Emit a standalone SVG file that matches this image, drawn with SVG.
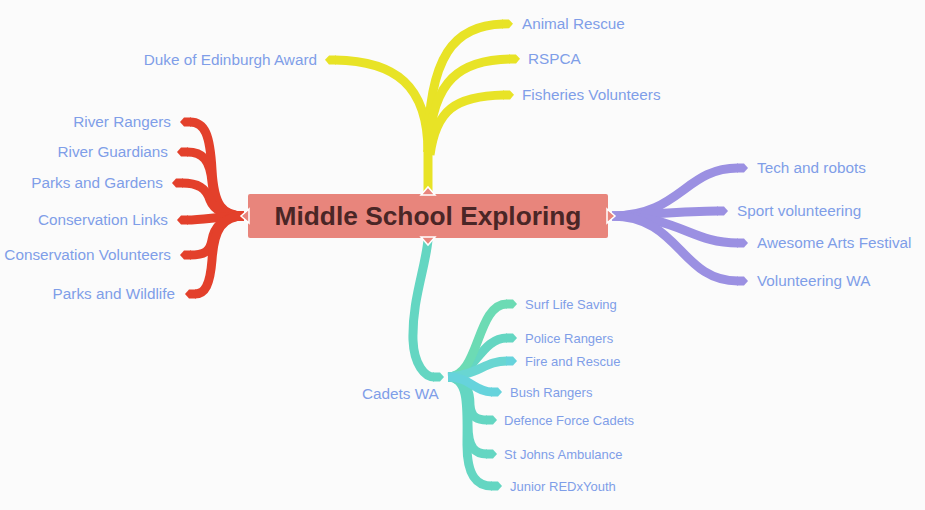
<svg xmlns="http://www.w3.org/2000/svg" width="925" height="510" viewBox="0 0 925 510">
<defs>
<style>
.lbl{font-family:"Liberation Sans",Arial,sans-serif;font-size:15.3px;fill:#7f9ee8}
.sm{font-size:13px}
.br{fill:none;stroke-linecap:butt}
.y{stroke:#e8e326;stroke-width:9}
.r{stroke:#e3402b;stroke-width:9}
.p{stroke:#9b90e2;stroke-width:9}
.t{stroke:#64d6c2;stroke-width:9}
.notch{fill:#e8857c;stroke:#ffffff;stroke-width:1.5}
</style>
<marker id="my" markerUnits="userSpaceOnUse" markerWidth="12" markerHeight="12" viewBox="0 0 12 12" refX="1" refY="6" orient="auto"><path d="M0,1.5 L7,1.5 L11,6 L7,10.5 L0,10.5 Z" fill="#e8e326"/></marker>
<marker id="mr" markerUnits="userSpaceOnUse" markerWidth="12" markerHeight="12" viewBox="0 0 12 12" refX="1" refY="6" orient="auto"><path d="M0,1.5 L7,1.5 L11,6 L7,10.5 L0,10.5 Z" fill="#e3402b"/></marker>
<marker id="mp" markerUnits="userSpaceOnUse" markerWidth="12" markerHeight="12" viewBox="0 0 12 12" refX="1" refY="6" orient="auto"><path d="M0,1.5 L7,1.5 L11,6 L7,10.5 L0,10.5 Z" fill="#9b90e2"/></marker>
<marker id="mt" markerUnits="userSpaceOnUse" markerWidth="12" markerHeight="12" viewBox="0 0 12 12" refX="1" refY="6" orient="auto"><path d="M0,1.5 L7,1.5 L11,6 L7,10.5 L0,10.5 Z" fill="#64d6c2"/></marker>
<marker id="mc" markerUnits="userSpaceOnUse" markerWidth="12" markerHeight="12" viewBox="0 0 12 12" refX="1" refY="6" orient="auto"><path d="M0,1.5 L7,1.5 L11,6 L7,10.5 L0,10.5 Z" fill="#66d3dc"/></marker>
<marker id="mg" markerUnits="userSpaceOnUse" markerWidth="12" markerHeight="12" viewBox="0 0 12 12" refX="1" refY="6" orient="auto"><path d="M0,1.5 L7,1.5 L11,6 L7,10.5 L0,10.5 Z" fill="#6cdbb4"/></marker>
</defs>
<rect width="925" height="510" fill="#fbfbfb"/>
<g id="connectors">
<!-- yellow -->
<path class="br y" d="M428,196 L428,150" stroke-width="10"/>
<path class="br y" d="M428,152 C428,85 395,61 335,60" marker-end="url(#my)"/>
<path class="br y" d="M428,152 C428,55 455,25 503,24" marker-end="url(#my)"/>
<path class="br y" d="M429,145 C433,80 460,60 510,59" marker-end="url(#my)"/>
<path class="br y" d="M430,155 C436,110 455,96 504,95" marker-end="url(#my)"/>
<!-- red -->
<path class="br r" d="M244,216 C222,216 214,205 212,170 C210,135 205,122 190,122" marker-end="url(#mr)"/>
<path class="br r" d="M244,216 C222,216 214,205 212,182 C210,160 203,152 187,152" marker-end="url(#mr)"/>
<path class="br r" d="M244,216 C225,216 214,210 210,200 C206,188 198,183 182,183" marker-end="url(#mr)"/>
<path class="br r" d="M244,216 C220,216 205,220 187,220" marker-end="url(#mr)"/>
<path class="br r" d="M244,216 C222,216 214,228 212,240 C210,252 204,255 190,255" marker-end="url(#mr)"/>
<path class="br r" d="M244,216 C222,216 214,230 212,260 C210,285 205,294 195,294" marker-end="url(#mr)"/>
<!-- purple -->
<path class="br p" d="M612,216 C680,216 685,168 738,168" marker-end="url(#mp)"/>
<path class="br p" d="M612,216 C650,215 680,211 718,211" marker-end="url(#mp)"/>
<path class="br p" d="M612,216 C680,216 690,243 738,243" marker-end="url(#mp)"/>
<path class="br p" d="M612,216 C680,216 680,281 738,281" marker-end="url(#mp)"/>
<!-- teal -->
<path class="br t" d="M428,240 C425,270 412,300 413,340 C414,365 425,377 434,377" marker-end="url(#mt)"/>
<path class="br t" d="M448,377 C470,377 467,410 467,445 C467,478 478,486 492,486" marker-end="url(#mt)"/>
<path class="br t" d="M448,377 C468,377 468,400 468,425 C468,448 475,454 487,454" marker-end="url(#mt)"/>
<path class="br t" d="M448,377 C468,377 470,395 470,405 C471,418 478,420 487,420" marker-end="url(#mt)"/>
<path class="br t" d="M448,377 C475,377 480,338 507,338" marker-end="url(#mt)"/>
<path class="br" d="M448,377 C480,377 476,304 507,304" stroke="#6cdbb4" stroke-width="9" marker-end="url(#mg)"/>
<path class="br" d="M448,377 C478,375 485,361 507,361" stroke="#69d6d2" stroke-width="9" marker-end="url(#mc)"/>
<path class="br" d="M448,377 C470,377 475,392 492,392" stroke="#66d3dc" stroke-width="9" marker-end="url(#mc)"/>
</g>
<g id="center">
<rect x="248" y="194" width="360" height="44" rx="2" fill="#e8857c"/>
<polygon class="notch" points="421,195 428,187 435,195"/>
<polygon class="notch" points="421,237 428,245 435,237"/>
<polygon class="notch" points="249,209 241,216 249,223"/>
<polygon class="notch" points="607,209 615,216 607,223"/>
<text x="428" y="225" text-anchor="middle" font-family="'Liberation Sans',Arial,sans-serif" font-size="26.3" font-weight="bold" fill="#4a2626">Middle School Exploring</text>
</g>
<g id="n-animal"><text class="lbl" x="522" y="29">Animal Rescue</text></g>
<g id="n-rspca"><text class="lbl" x="528" y="64">RSPCA</text></g>
<g id="n-fisheries"><text class="lbl" x="522" y="100">Fisheries Volunteers</text></g>
<g id="n-duke"><text class="lbl" x="317" y="65" text-anchor="end">Duke of Edinburgh Award</text></g>
<g id="n-riverrangers"><text class="lbl" x="171" y="127" text-anchor="end">River Rangers</text></g>
<g id="n-riverguardians"><text class="lbl" x="168" y="157" text-anchor="end">River Guardians</text></g>
<g id="n-parksgardens"><text class="lbl" x="163" y="188" text-anchor="end">Parks and Gardens</text></g>
<g id="n-conslinks"><text class="lbl" x="168" y="225" text-anchor="end">Conservation Links</text></g>
<g id="n-consvol"><text class="lbl" x="171" y="260" text-anchor="end">Conservation Volunteers</text></g>
<g id="n-parkswild"><text class="lbl" x="175" y="299" text-anchor="end">Parks and Wildlife</text></g>
<g id="n-tech"><text class="lbl" x="757" y="173">Tech and robots</text></g>
<g id="n-sport"><text class="lbl" x="737" y="216">Sport volunteering</text></g>
<g id="n-arts"><text class="lbl" x="757" y="248">Awesome Arts Festival</text></g>
<g id="n-volwa"><text class="lbl" x="757" y="286">Volunteering WA</text></g>
<g id="n-cadets"><text class="lbl" x="362" y="399">Cadets WA</text></g>
<g id="n-surf"><text class="lbl sm" x="525" y="308.5">Surf Life Saving</text></g>
<g id="n-police"><text class="lbl sm" x="525" y="342.5">Police Rangers</text></g>
<g id="n-fire"><text class="lbl sm" x="525" y="365.5">Fire and Rescue</text></g>
<g id="n-bush"><text class="lbl sm" x="510" y="396.5">Bush Rangers</text></g>
<g id="n-defence"><text class="lbl sm" x="504" y="424.5">Defence Force Cadets</text></g>
<g id="n-stjohns"><text class="lbl sm" x="504" y="458.5">St Johns Ambulance</text></g>
<g id="n-junior"><text class="lbl sm" x="510" y="490.5">Junior REDxYouth</text></g>
</svg>
